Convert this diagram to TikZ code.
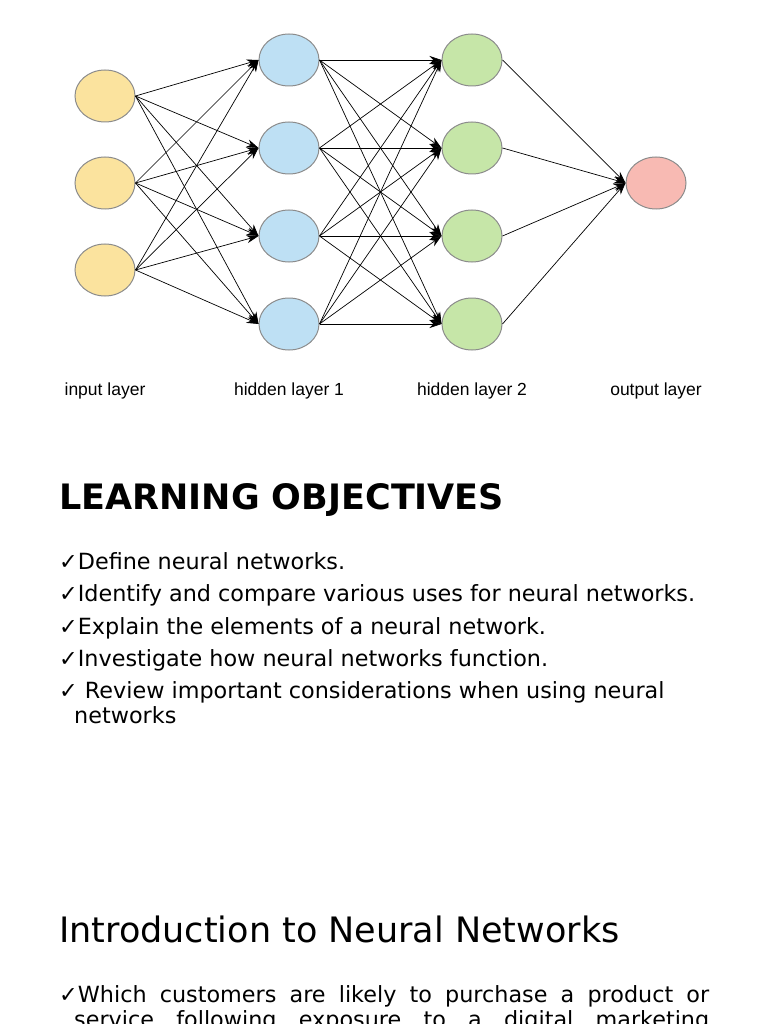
\documentclass[tikz,border=0pt]{standalone}
\usepackage{fontspec}
\setmainfont{DejaVu Sans}
\newfontfamily\labfont{Liberation Sans}
\usetikzlibrary{shapes.geometric,arrows.meta}
\definecolor{cy}{HTML}{FBE39E}
\definecolor{cb}{HTML}{BEE0F4}
\definecolor{cg}{HTML}{C6E6A8}
\definecolor{cr}{HTML}{F8BAB3}
\tikzset{
 neuron/.style={ellipse,draw=black!45,line width=1pt,minimum width=60pt,minimum height=52pt,inner sep=0pt},
 conn/.style={line width=0.7pt,-{Stealth[length=12pt,width=8pt]}},
 lay/.style={font=\labfont\fontsize{17.5}{20}\selectfont,anchor=base},
 bul/.style={font=\fontsize{22.3}{26}\selectfont,anchor=base west,inner sep=0pt}
}
\begin{document}
\begin{tikzpicture}[x=1pt,y=-1pt]
\clip (0,0) rectangle (768,1024);
\fill[white] (0,0) rectangle (768,1024);
\foreach \i/\y in {1/96,2/183,3/270} \node[neuron,fill=cy] (i\i) at (105,\y) {};
\foreach \i/\y in {1/60,2/148,3/236,4/324} {
  \node[neuron,fill=cb] (a\i) at (289,\y) {};
  \node[neuron,fill=cg] (b\i) at (472,\y) {};
}
\node[neuron,fill=cr] (o) at (656,183) {};
\foreach \i in {1,2,3} \foreach \j in {1,2,3,4} \draw[conn] (i\i.east) -- (a\j.west);
\foreach \i in {1,2,3,4} \foreach \j in {1,2,3,4} \draw[conn] (a\i.east) -- (b\j.west);
\foreach \i in {1,2,3,4} \draw[conn] (b\i.east) -- (o.west);
\node[lay] (l1) at (105,395) {input layer};
\node[lay] (l2) at (289,395) {hidden layer 1};
\node[lay] (l3) at (472,395) {hidden layer 2};
\node[lay] (l4) at (656,395) {output layer};
\node[anchor=base west,inner sep=0pt,font=\fontsize{35}{40}\selectfont\bfseries] (h1) at (59,509) {LEARNING OBJECTIVES};
\node[bul] (t1) at (59,569) {✓Define neural networks.};
\node[bul] (t2) at (59,601) {✓Identify and compare various uses for neural networks.};
\node[bul] (t3) at (59,634) {✓Explain the elements of a neural network.};
\node[bul] (t4) at (59,666) {✓Investigate how neural networks function.};
\node[bul] (t5) at (59,698) {✓ Review important considerations when using neural};
\node[bul] (t6) at (74,723) {networks};
\node[anchor=base west,inner sep=0pt,font=\fontsize{35}{40}\selectfont] (h2) at (59,942) {Introduction to Neural Networks};
\node[bul] (p1) at (59,1002) {\makebox[650pt][s]{✓Which customers are likely to purchase a product or}};
\node[bul] (p2) at (74,1027) {\makebox[635pt][s]{service following exposure to a digital marketing}};
\end{tikzpicture}
\end{document}
